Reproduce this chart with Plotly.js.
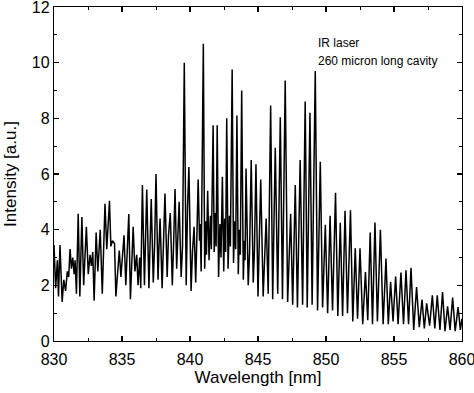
<!DOCTYPE html>
<html>
<head>
<meta charset="utf-8">
<script src="https://cdn.plot.ly/plotly-3.0.1.min.js"></script>
<style>html,body{margin:0;padding:0;background:#fff;}#chart{width:474px;height:393px;}</style>
</head>
<body>
<div id="chart"></div>
<script>
// Wavelength (nm) and intensity (a.u.)
var wavelength = [
830.00,830.12,830.25,830.33,830.44,830.60,830.72,830.85,830.98,831.08,
831.18,831.28,831.38,831.48,831.55,831.65,831.78,831.90,832.05,832.18,
832.38,832.52,832.65,832.75,832.85,832.95,833.10,833.22,833.40,833.55,
833.75,833.88,834.08,834.18,834.30,834.45,834.55,834.80,834.92,835.00,
835.15,835.28,835.50,835.62,835.82,835.95,836.08,836.18,836.30,836.38,
836.50,836.65,836.74,836.76,836.82,836.98,837.08,837.15,837.30,837.40,
837.50,837.65,837.72,837.80,837.95,838.05,838.16,838.32,838.42,838.55,
838.70,838.80,838.90,839.02,839.10,839.20,839.35,839.45,839.58,839.72,
839.82,839.92,840.08,840.18,840.30,840.42,840.50,840.60,840.70,840.75,
840.82,840.98,841.08,841.16,841.21,841.30,841.40,841.50,841.57,841.70,
841.78,841.85,841.92,842.00,842.10,842.20,842.28,842.38,842.48,842.55,
842.62,842.70,842.80,842.90,842.97,843.10,843.20,843.28,843.36,843.45,
843.55,843.63,843.70,843.80,843.92,844.00,844.05,844.12,844.28,844.38,
844.50,844.65,844.74,844.85,845.00,845.20,845.38,845.60,845.75,845.93,
846.08,846.27,846.45,846.64,846.80,847.00,847.18,847.40,847.55,847.74,
847.90,848.10,848.28,848.47,848.62,848.82,848.98,849.21,849.38,849.58,
849.75,849.95,850.12,850.30,850.48,850.70,850.87,851.05,851.22,851.40,
851.58,851.80,851.97,852.15,852.32,852.50,852.70,852.90,853.07,853.25,
853.42,853.60,853.78,854.00,854.20,854.41,854.58,854.75,854.93,855.12,
855.30,855.51,855.70,855.88,856.07,856.25,856.45,856.66,856.86,857.06,
857.23,857.40,857.62,857.82,858.00,858.18,858.38,858.57,858.75,858.94,
859.12,859.31,859.50,859.71,859.88,860.00
];
var intensity = [
3.45,1.9,2.9,1.6,3.45,1.4,2.2,1.8,2.5,2.3,
3.3,2.6,3.0,2.4,2.9,1.7,4.57,1.6,4.45,2.0,
4.1,2.4,3.1,2.7,3.2,1.45,3.9,2.5,4.0,1.7,
4.93,3.3,5.04,3.4,3.6,3.5,1.6,3.25,2.3,2.9,
3.8,2.0,4.56,1.5,4.1,2.5,3.1,2.0,3.0,1.9,
5.6,2.0,3.8,3.2,5.44,1.9,3.6,5.1,2.1,3.5,
6.0,2.2,3.4,4.4,1.9,3.6,5.3,2.3,3.8,4.6,
2.0,3.6,5.46,2.6,3.9,5.0,2.3,3.4,10.0,2.0,
4.8,6.25,1.8,3.2,4.1,2.1,3.6,5.8,3.6,4.2,
2.5,10.68,2.6,4.3,3.1,5.4,2.9,4.5,3.3,7.75,
3.2,4.6,3.4,7.75,2.3,4.2,3.0,5.9,2.5,4.4,
3.2,8.0,2.6,4.5,3.4,9.75,2.8,4.3,3.3,8.1,
2.4,4.0,3.1,9.0,2.2,3.6,2.9,6.2,2.0,3.2,
6.5,2.1,3.3,6.35,1.6,5.8,1.6,4.4,1.7,8.46,
1.5,6.94,1.7,8.04,1.5,9.36,1.4,4.57,1.3,5.6,
1.2,6.5,1.3,8.6,1.2,8.2,1.3,9.7,1.1,6.44,
1.2,4.18,1.0,4.5,1.1,5.33,0.9,4.25,0.9,4.68,
1.0,4.7,0.7,3.33,0.8,3.33,0.6,2.48,0.75,3.9,
0.6,4.26,0.7,4.0,0.6,2.96,0.6,2.12,0.7,2.32,
0.6,2.46,0.6,2.54,0.6,2.63,0.4,1.94,0.5,1.49,
0.45,1.35,0.55,1.64,0.45,1.64,0.4,1.76,0.35,1.25,
0.4,1.56,0.35,1.22,0.4,0.8
];
var xTickVals = [830, 835, 840, 845, 850, 855, 860];
var yTickVals = [0, 2, 4, 6, 8, 10, 12];
var xTitle = 'Wavelength [nm]';
var yTitle = 'Intensity [a.u.]';
var noteLines = ['IR laser', '260 micron long cavity'];

var fontFam = 'Liberation Sans, Arial, Helvetica, sans-serif';

var trace = {
  x: wavelength, y: intensity, type: 'scatter', mode: 'lines',
  line: {color: '#000', width: 1.5}, hoverinfo: 'skip'
};

var axisCommon = {
  showline: true, linecolor: '#000', linewidth: 1.2, mirror: 'allticks',
  ticks: 'inside', ticklen: 5, tickwidth: 1.1, tickcolor: '#000',
  showgrid: false, zeroline: false, ticklabeloverflow: 'allow',
  tickfont: {family: fontFam, size: 16, color: '#000'}
};

var layout = {
  width: 474, height: 393,
  margin: {l: 54, r: 12, t: 7, b: 52},
  paper_bgcolor: '#fff', plot_bgcolor: '#fff',
  showlegend: false,
  xaxis: Object.assign({}, axisCommon, {
    range: [830, 860], tickvals: xTickVals, ticktext: xTickVals.map(String),
    ticklabelstandoff: 4,
    minor: {dtick: 2.5, tick0: 830, ticks: 'inside', ticklen: 3, tickcolor: '#000', tickwidth: 1},
    title: {text: xTitle, font: {family: fontFam, size: 17, color: '#000'}, standoff: 0}
  }),
  yaxis: Object.assign({}, axisCommon, {
    range: [0, 12], tickvals: yTickVals, ticktext: yTickVals.map(String),
    minor: {dtick: 1, tick0: 0, ticks: 'inside', ticklen: 3, tickcolor: '#000', tickwidth: 1},
    title: {text: yTitle, font: {family: fontFam, size: 17, color: '#000'}, standoff: 10}
  }),
  annotations: [
    {x: 849.3, y: 10.72, xref: 'x', yref: 'y', text: noteLines[0], showarrow: false,
     xanchor: 'left', yanchor: 'middle', font: {family: fontFam, size: 12, color: '#000'}},
    {x: 849.3, y: 10.05, xref: 'x', yref: 'y', text: noteLines[1], showarrow: false,
     xanchor: 'left', yanchor: 'middle', font: {family: fontFam, size: 12, color: '#000'}}
  ]
};

Plotly.newPlot('chart', [trace], layout, {displayModeBar: false, staticPlot: true});
</script>
</body>
</html>
